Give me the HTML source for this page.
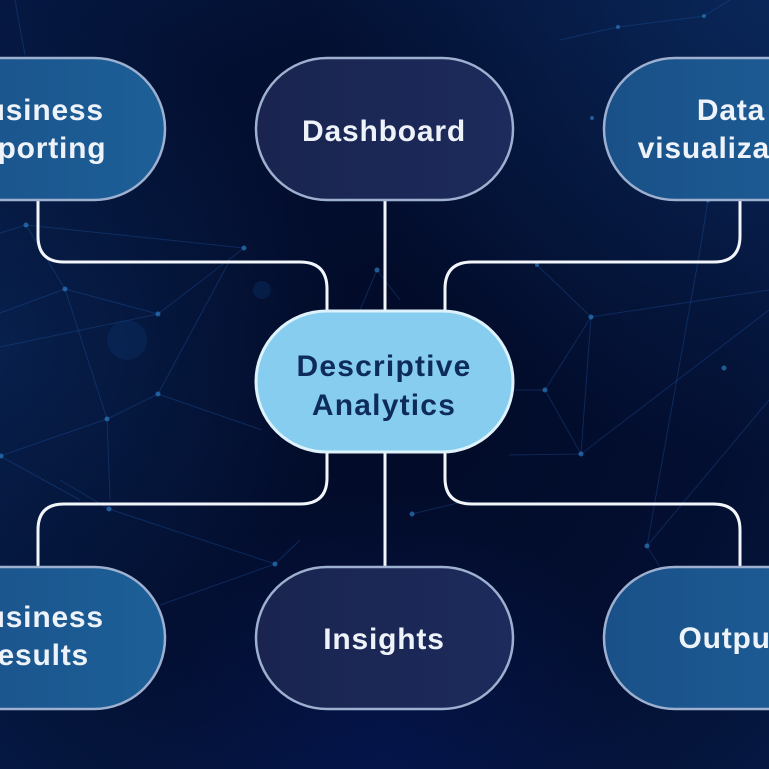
<!DOCTYPE html>
<html><head><meta charset="utf-8"><style>
html,body{margin:0;padding:0;background:#03102f;}
svg{display:block;}
text{font-family:"Liberation Sans",Arial,sans-serif;font-weight:bold;font-size:30px;letter-spacing:0.8px;text-anchor:middle;}
</style></head><body>
<svg width="769" height="769" viewBox="0 0 769 769" xmlns="http://www.w3.org/2000/svg">
<defs>
<radialGradient id="bg" cx="50%" cy="50%" r="75%">
<stop offset="0" stop-color="#020a27"/>
<stop offset="0.6" stop-color="#030f31"/>
<stop offset="1" stop-color="#061a45"/>
</radialGradient>
<radialGradient id="glowTR" cx="100%" cy="0%" r="60%">
<stop offset="0" stop-color="#0b2d62" stop-opacity="0.7"/>
<stop offset="1" stop-color="#0b2d62" stop-opacity="0"/>
</radialGradient>
<radialGradient id="glowL" cx="0%" cy="45%" r="45%">
<stop offset="0" stop-color="#0a2a5c" stop-opacity="0.6"/>
<stop offset="1" stop-color="#0a2a5c" stop-opacity="0"/>
</radialGradient>
<radialGradient id="glowB" cx="50%" cy="100%" r="35%">
<stop offset="0" stop-color="#06185a" stop-opacity="0.6"/>
<stop offset="1" stop-color="#06185a" stop-opacity="0"/>
</radialGradient>
<linearGradient id="blueBox" x1="0" y1="0" x2="1" y2="0">
<stop offset="0" stop-color="#1a5088"/>
<stop offset="1" stop-color="#1d5f98"/>
</linearGradient>
<linearGradient id="navyBox" x1="0" y1="0" x2="1" y2="0">
<stop offset="0" stop-color="#1a244f"/>
<stop offset="1" stop-color="#1c2b5c"/>
</linearGradient>
</defs>
<rect width="769" height="769" fill="url(#bg)"/>
<rect width="769" height="769" fill="url(#glowTR)"/>
<rect width="769" height="769" fill="url(#glowL)"/>
<rect width="769" height="769" fill="url(#glowB)"/>

<!-- network background -->
<g stroke="#1f5aa6" stroke-width="1" stroke-opacity="0.35" fill="none">
<line x1="0" y1="233" x2="26" y2="225"/>
<line x1="26" y1="225" x2="65" y2="289"/>
<line x1="65" y1="289" x2="107" y2="419"/>
<line x1="65" y1="289" x2="158" y2="314"/>
<line x1="0" y1="313" x2="65" y2="289"/>
<line x1="0" y1="347" x2="158" y2="314"/>
<line x1="158" y1="314" x2="244" y2="248"/>
<line x1="26" y1="225" x2="244" y2="248"/>
<line x1="107" y1="419" x2="158" y2="394"/>
<line x1="158" y1="394" x2="262" y2="430"/>
<line x1="158" y1="394" x2="230" y2="260"/>
<line x1="0" y1="456" x2="107" y2="419"/>
<line x1="0" y1="456" x2="80" y2="500"/>
<line x1="107" y1="419" x2="110" y2="500"/>
<line x1="60" y1="480" x2="109" y2="509"/>
<line x1="109" y1="509" x2="275" y2="564"/>
<line x1="275" y1="564" x2="300" y2="540"/>
<line x1="275" y1="564" x2="160" y2="605"/>
<line x1="15" y1="0" x2="25" y2="55"/>
<line x1="377" y1="270" x2="360" y2="310"/>
<line x1="377" y1="270" x2="400" y2="300"/>
<line x1="537" y1="265" x2="591" y2="317"/>
<line x1="591" y1="317" x2="545" y2="390"/>
<line x1="591" y1="317" x2="581" y2="454"/>
<line x1="545" y1="390" x2="581" y2="454"/>
<line x1="513" y1="390" x2="545" y2="390"/>
<line x1="509" y1="455" x2="581" y2="454"/>
<line x1="581" y1="454" x2="769" y2="310"/>
<line x1="700" y1="250" x2="647" y2="546"/>
<line x1="647" y1="546" x2="769" y2="400"/>
<line x1="647" y1="546" x2="660" y2="567"/>
<line x1="591" y1="317" x2="769" y2="290"/>
<line x1="412" y1="514" x2="470" y2="500"/>
<line x1="618" y1="27" x2="704" y2="16"/>
<line x1="618" y1="27" x2="560" y2="40"/>
<line x1="704" y1="16" x2="730" y2="0"/>
<line x1="708" y1="200" x2="700" y2="250"/>
</g>
<g fill="#2a79c0" fill-opacity="0.7">
<circle cx="26" cy="225" r="2.5"/><circle cx="65" cy="289" r="2.5"/>
<circle cx="158" cy="314" r="2.5"/><circle cx="244" cy="248" r="2.5"/>
<circle cx="158" cy="394" r="2.5"/><circle cx="107" cy="419" r="2.5"/>
<circle cx="1" cy="456" r="2.5"/><circle cx="109" cy="509" r="2.5"/>
<circle cx="275" cy="564" r="2.5"/><circle cx="591" cy="317" r="2.5"/>
<circle cx="545" cy="390" r="2.5"/><circle cx="581" cy="454" r="2.5"/>
<circle cx="724" cy="368" r="2.5"/><circle cx="647" cy="546" r="2.5"/>
<circle cx="537" cy="265" r="2"/><circle cx="412" cy="514" r="2.5"/>
<circle cx="699" cy="680" r="2.5"/><circle cx="377" cy="270" r="2.5"/>
<circle cx="618" cy="27" r="2"/><circle cx="704" cy="16" r="2"/>
<circle cx="592" cy="118" r="2"/><circle cx="708" cy="200" r="2.5"/>
</g>
<g fill="#0f3670" fill-opacity="0.35">
<circle cx="127" cy="340" r="20"/><circle cx="262" cy="290" r="9"/>
</g>

<!-- connectors -->
<g stroke="#f2f6fb" stroke-width="3" fill="none">
<path d="M38 199 V236 Q38 262 64 262 H300 Q327 262 327 289 V312"/>
<line x1="385" y1="199" x2="385" y2="312"/>
<path d="M740 199 V236 Q740 262 714 262 H472 Q445 262 445 289 V312"/>
<path d="M327 451 V478 Q327 504 300 504 H64 Q38 504 38 530 V568"/>
<line x1="385" y1="451" x2="385" y2="568"/>
<path d="M445 451 V478 Q445 504 472 504 H713 Q740 504 740 530 V568"/>
</g>

<!-- boxes -->
<g stroke="#9db0cf" stroke-width="2.5">
<rect x="-93" y="58" width="258" height="142" rx="71" fill="url(#blueBox)"/>
<rect x="256" y="58" width="257" height="142" rx="71" fill="url(#navyBox)"/>
<rect x="604" y="58" width="258" height="142" rx="71" fill="url(#blueBox)"/>
<rect x="-93" y="567" width="258" height="142" rx="71" fill="url(#blueBox)"/>
<rect x="256" y="567" width="257" height="142" rx="71" fill="url(#navyBox)"/>
<rect x="604" y="567" width="258" height="142" rx="71" fill="url(#blueBox)"/>
</g>
<rect x="256" y="311" width="257" height="141" rx="70.5" fill="#87cdf0" stroke="#def2fb" stroke-width="3"/>

<!-- labels -->
<g fill="#eef3f9">
<text x="34" y="120">Business</text>
<text x="32" y="158">Reporting</text>
<text x="384" y="141">Dashboard</text>
<text x="731" y="120">Data</text>
<text x="733" y="158">visualization</text>
<text x="34" y="627">Business</text>
<text x="32" y="665">Results</text>
<text x="384" y="649">Insights</text>
<text x="730" y="648">Output</text>
</g>
<g fill="#0e2c5a">
<text x="384" y="376" style="letter-spacing:1.2px">Descriptive</text>
<text x="384" y="415" style="letter-spacing:1.2px">Analytics</text>
</g>
</svg>
</body></html>
